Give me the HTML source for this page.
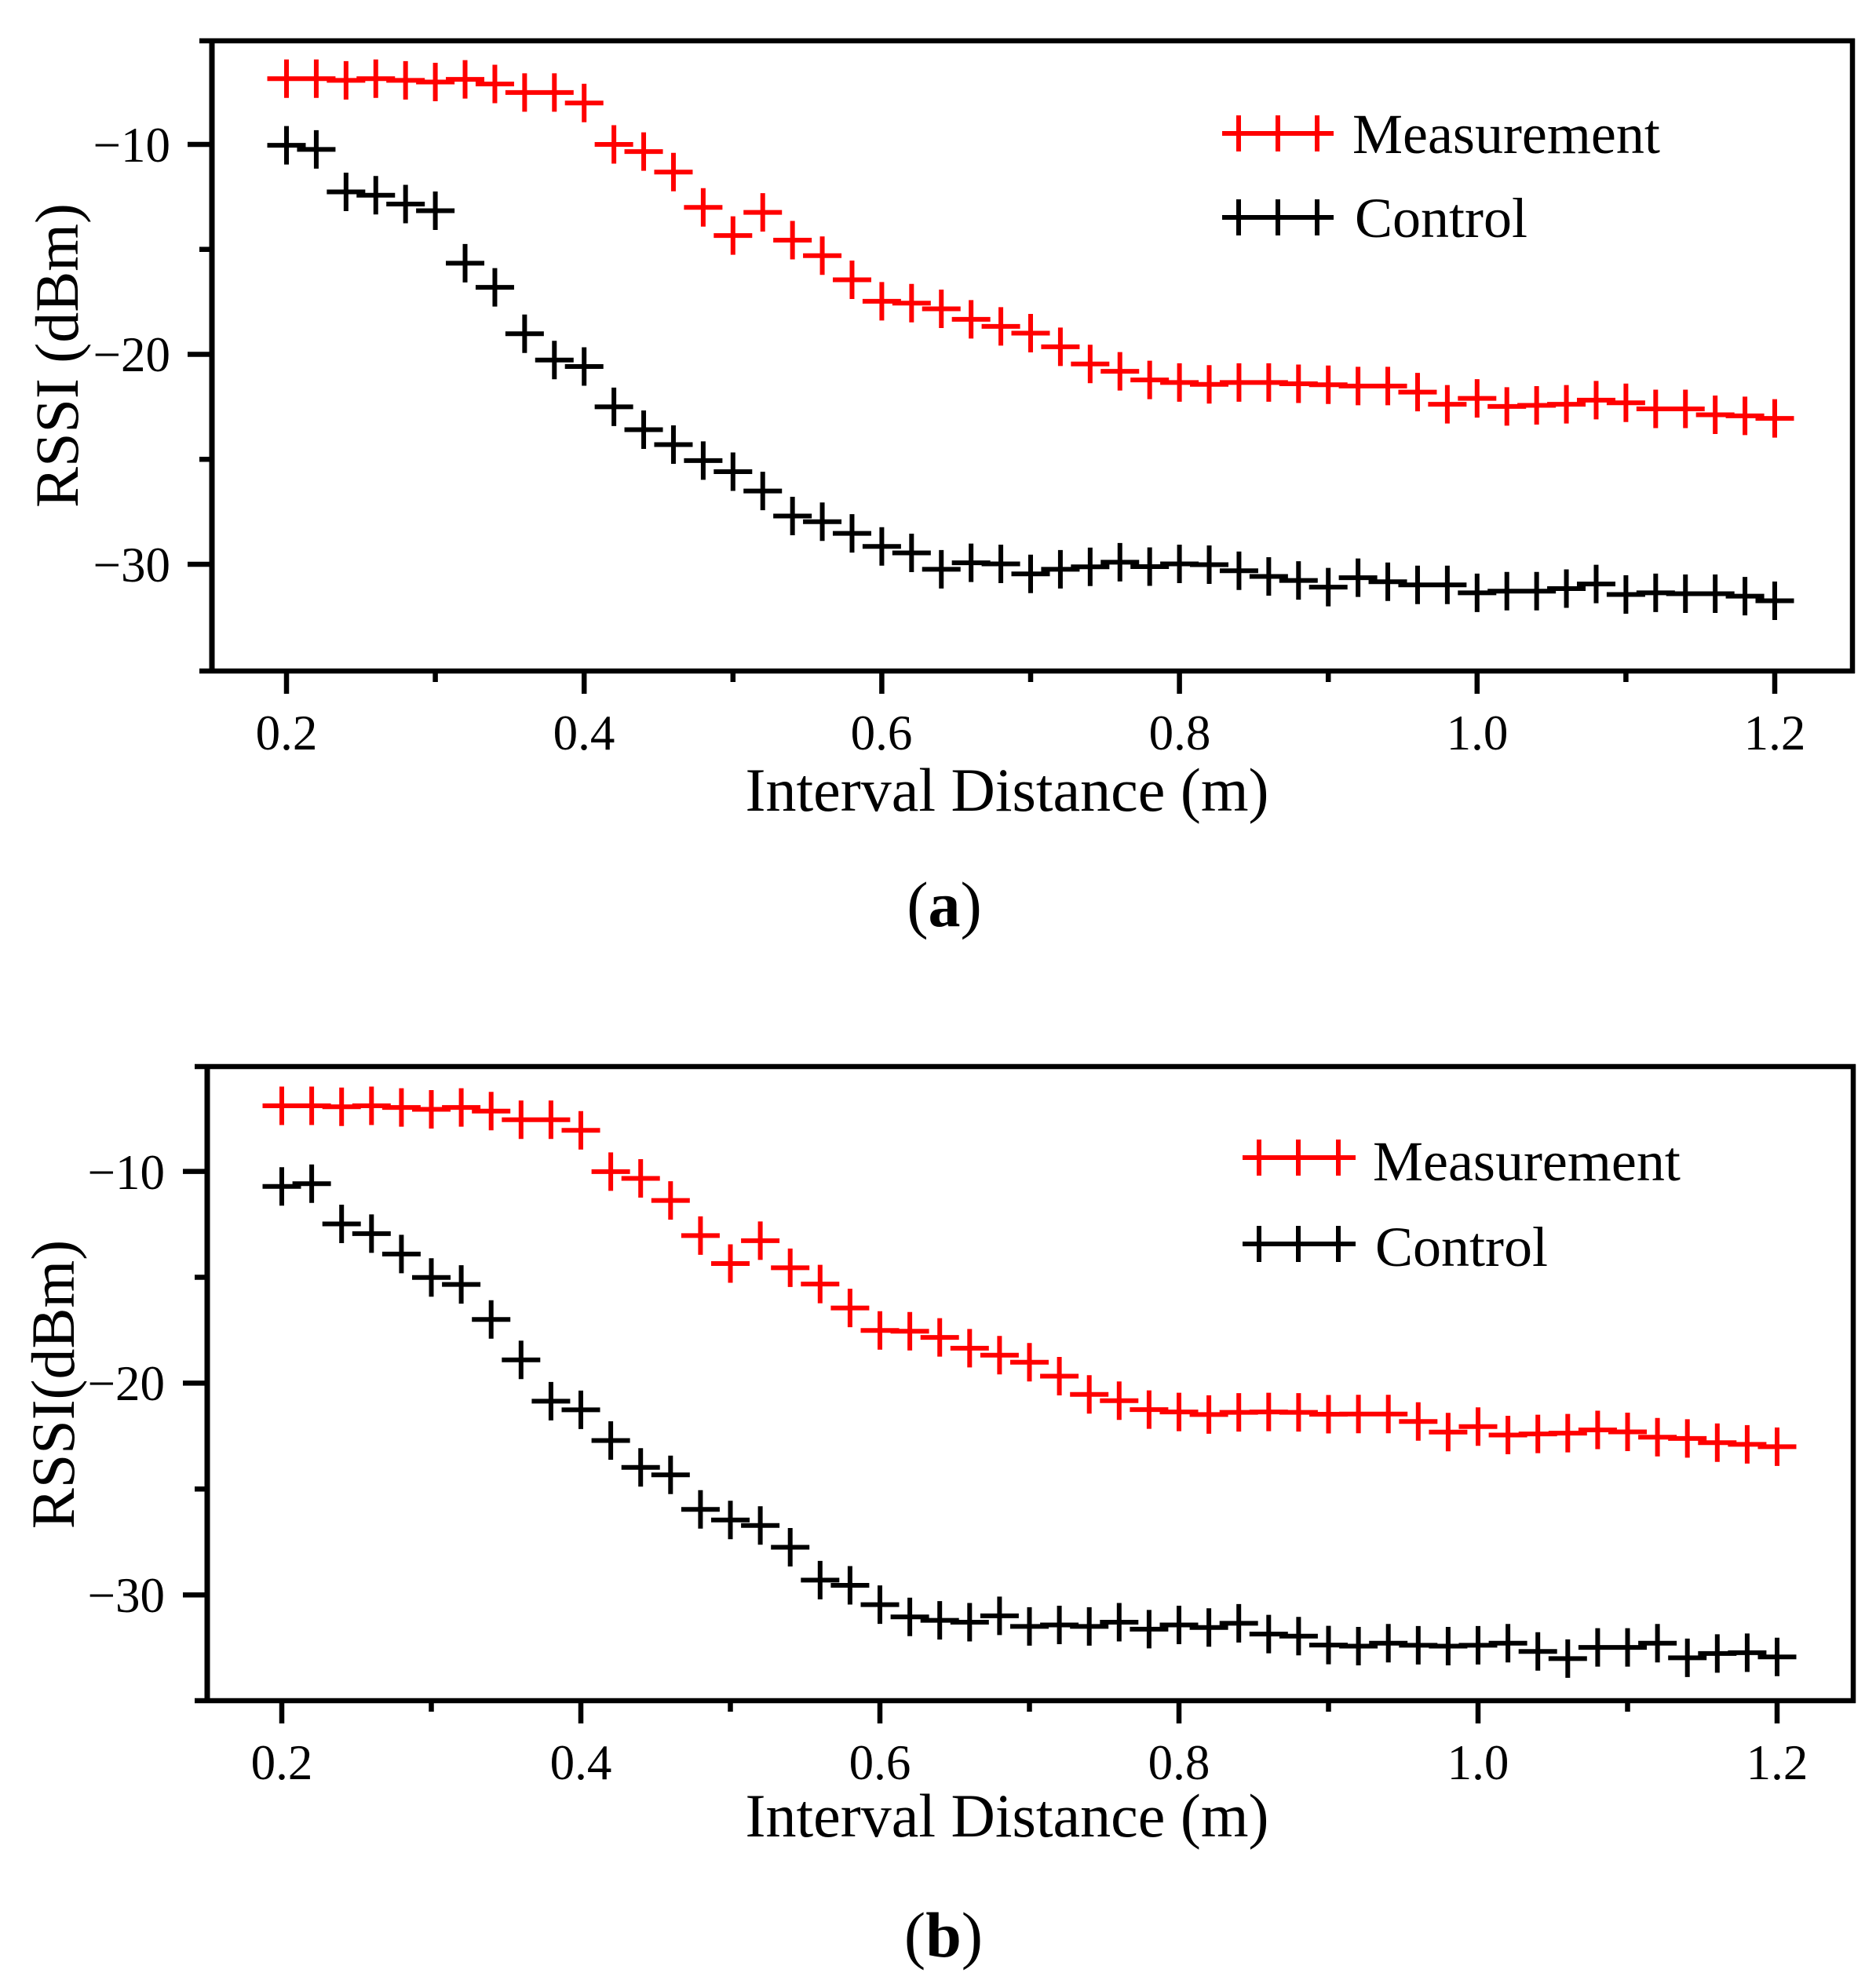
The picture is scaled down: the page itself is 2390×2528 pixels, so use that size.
<!DOCTYPE html>
<html>
<head>
<meta charset="utf-8">
<style>
  html,body{margin:0;padding:0;background:#fff;}
  svg{display:block;}
  text{font-family:"Liberation Serif","Times New Roman",serif;fill:#000;}
</style>
</head>
<body>
<svg id="s" xmlns="http://www.w3.org/2000/svg" width="2390" height="2528" viewBox="0 0 2390 2528">
  <rect x="0" y="0" width="2390" height="2528" fill="#fff"/>

  <!-- Panel (a) texts -->
  <g font-size="63" text-anchor="end">
    <text x="217" y="206">−10</text>
    <text x="217" y="473">−20</text>
    <text x="217" y="741">−30</text>
  </g>
  <g font-size="63" text-anchor="middle">
    <text x="365" y="955">0.2</text>
    <text x="744" y="955">0.4</text>
    <text x="1123" y="955">0.6</text>
    <text x="1503" y="955">0.8</text>
    <text x="1882" y="955">1.0</text>
    <text x="2261" y="955">1.2</text>
  </g>
  <text x="1283" y="1033" font-size="78" text-anchor="middle">Interval Distance (m)</text>
  <text transform="translate(99,453) rotate(-90)" font-size="78" text-anchor="middle">RSSI (dBm)</text>
  <text x="1723" y="195" font-size="72">Measurement</text>
  <text x="1726" y="302" font-size="72">Control</text>
  <text x="1203" y="1180" font-size="82" text-anchor="middle">(<tspan font-weight="bold">a</tspan>)</text>

  <!-- Panel (b) texts -->
  <g font-size="63" text-anchor="end">
    <text x="210" y="1515">−10</text>
    <text x="210" y="1784">−20</text>
    <text x="210" y="2054">−30</text>
  </g>
  <g font-size="63" text-anchor="middle">
    <text x="359" y="2267">0.2</text>
    <text x="740" y="2267">0.4</text>
    <text x="1121" y="2267">0.6</text>
    <text x="1502" y="2267">0.8</text>
    <text x="1883" y="2267">1.0</text>
    <text x="2264" y="2267">1.2</text>
  </g>
  <text x="1283" y="2340" font-size="78" text-anchor="middle">Interval Distance (m)</text>
  <text transform="translate(94,1764) rotate(-90)" font-size="78" text-anchor="middle">RSSI(dBm)</text>
  <text x="1749" y="1504" font-size="72">Measurement</text>
  <text x="1752" y="1613" font-size="72">Control</text>
  <text x="1202" y="2493" font-size="82" text-anchor="middle">(<tspan font-weight="bold">b</tspan>)</text>

  <g id="g"></g>
</svg>
<script>
(function(){
  var NS = 'http://www.w3.org/2000/svg';
  var g = document.getElementById('g');
  function el(tag, attrs){
    var e = document.createElementNS(NS, tag);
    for (var k in attrs) e.setAttribute(k, attrs[k]);
    g.appendChild(e);
    return e;
  }
  var A = {X0:365, kx:1896, Y10:184, ky:26.75, left:270, right:2360, top:52, bottom:855};
  var B = {X0:359, kx:1905, Y10:1492.6, ky:26.98, left:264, right:2361, top:1359, bottom:2167};
  function X(p,v){ return p.X0 + (v-0.2)*p.kx; }
  function Y(p,d){ return p.Y10 + (-10-d)*p.ky; }

  var aRed = [-6.87,-6.87,-6.95,-6.87,-6.95,-7.03,-6.90,-7.12,-7.53,-7.53,-8.03,-10.0,-10.34,-11.32,-13.0,-14.34,-13.24,-14.56,-15.30,-16.45,-17.47,-17.56,-17.83,-18.33,-18.67,-18.99,-19.64,-20.46,-20.81,-21.22,-21.34,-21.43,-21.34,-21.34,-21.40,-21.45,-21.51,-21.51,-21.80,-22.38,-22.10,-22.48,-22.43,-22.38,-22.18,-22.31,-22.60,-22.60,-22.88,-22.93,-23.05];
  var aBlk = [-10.04,-10.24,-12.26,-12.42,-12.84,-13.16,-15.66,-16.81,-19.02,-20.27,-20.58,-22.50,-23.59,-24.30,-25.06,-25.59,-26.51,-27.70,-27.97,-28.53,-29.15,-29.46,-30.24,-29.93,-29.98,-30.46,-30.24,-30.12,-29.90,-30.11,-29.98,-30.02,-30.31,-30.58,-30.77,-31.09,-30.64,-30.83,-30.98,-30.98,-31.36,-31.28,-31.28,-31.16,-30.94,-31.44,-31.36,-31.40,-31.40,-31.52,-31.74];
  var bRed = [-6.90,-6.90,-6.95,-6.90,-6.98,-7.07,-6.98,-7.15,-7.56,-7.56,-8.06,-10.01,-10.33,-11.37,-13.03,-14.35,-13.27,-14.55,-15.32,-16.45,-17.51,-17.55,-17.84,-18.35,-18.68,-19.01,-19.67,-20.53,-20.83,-21.25,-21.36,-21.48,-21.38,-21.36,-21.38,-21.47,-21.46,-21.46,-21.81,-22.31,-22.05,-22.45,-22.40,-22.36,-22.21,-22.30,-22.55,-22.61,-22.81,-22.89,-23.00];
  var bBlk = [-10.71,-10.58,-12.48,-12.94,-13.90,-15.01,-15.34,-16.99,-18.90,-20.85,-21.26,-22.71,-23.98,-24.33,-25.96,-26.46,-26.72,-27.75,-29.30,-29.55,-30.46,-31.04,-31.20,-31.29,-30.99,-31.49,-31.42,-31.49,-31.29,-31.62,-31.42,-31.54,-31.34,-31.85,-31.95,-32.37,-32.42,-32.28,-32.38,-32.42,-32.38,-32.28,-32.67,-33.01,-32.48,-32.48,-32.28,-32.97,-32.77,-32.73,-32.93];

  function frame(p){
    var sw = 6.5;
    el('line',{x1:p.left-16,y1:p.top,x2:p.right+3,y2:p.top,stroke:'#000','stroke-width':sw});
    el('line',{x1:p.left-16,y1:p.bottom,x2:p.right+3,y2:p.bottom,stroke:'#000','stroke-width':sw});
    el('line',{x1:p.left,y1:p.top-3,x2:p.left,y2:p.bottom+3,stroke:'#000','stroke-width':7});
    el('line',{x1:p.right,y1:p.top-3,x2:p.right,y2:p.bottom+3,stroke:'#000','stroke-width':sw});
    for (var i=0;i<=10;i++){
      var v = 0.2 + i*0.1;
      var x = X(p,v);
      var len = (i%2===0) ? 29 : 14;
      el('line',{x1:x,y1:p.bottom,x2:x,y2:p.bottom+len,stroke:'#000','stroke-width':6.5});
    }
    var ys = [[-10,31],[-15,16],[-20,31],[-25,16],[-30,31]];
    for (var j=0;j<ys.length;j++){
      var y = Y(p,ys[j][0]);
      el('line',{x1:p.left-ys[j][1],y1:y,x2:p.left,y2:y,stroke:'#000','stroke-width':6.5});
    }
  }
  function plus(x,y,h){
    return 'M'+(x-h)+' '+y+'H'+(x+h)+'M'+x+' '+(y-h)+'V'+(y+h);
  }
  function series(p,data,col){
    var d='';
    for (var i=0;i<data.length;i++){
      var x = X(p,0.2+i*0.02), y = Y(p,data[i]);
      d += plus(x,y,24.5);
    }
    el('path',{d:d,fill:'none',stroke:col,'stroke-width':6});
  }
  function legend(x1,x2,y,mx,col){
    el('line',{x1:x1,y1:y,x2:x2,y2:y,stroke:col,'stroke-width':6});
    var d='';
    for (var i=0;i<mx.length;i++) d += 'M'+mx[i]+' '+(y-23)+'V'+(y+23);
    el('path',{d:d,fill:'none',stroke:col,'stroke-width':6});
  }

  frame(A);
  series(A,aBlk,'#000');
  series(A,aRed,'#ff0000');
  legend(1557,1699,170,[1578,1628,1678],'#ff0000');
  legend(1557,1699,277,[1578,1628,1678],'#000');

  frame(B);
  series(B,bBlk,'#000');
  series(B,bRed,'#ff0000');
  legend(1583,1727,1475,[1604,1654,1705],'#ff0000');
  legend(1583,1727,1585,[1604,1654,1705],'#000');
})();
</script>
</body>
</html>
